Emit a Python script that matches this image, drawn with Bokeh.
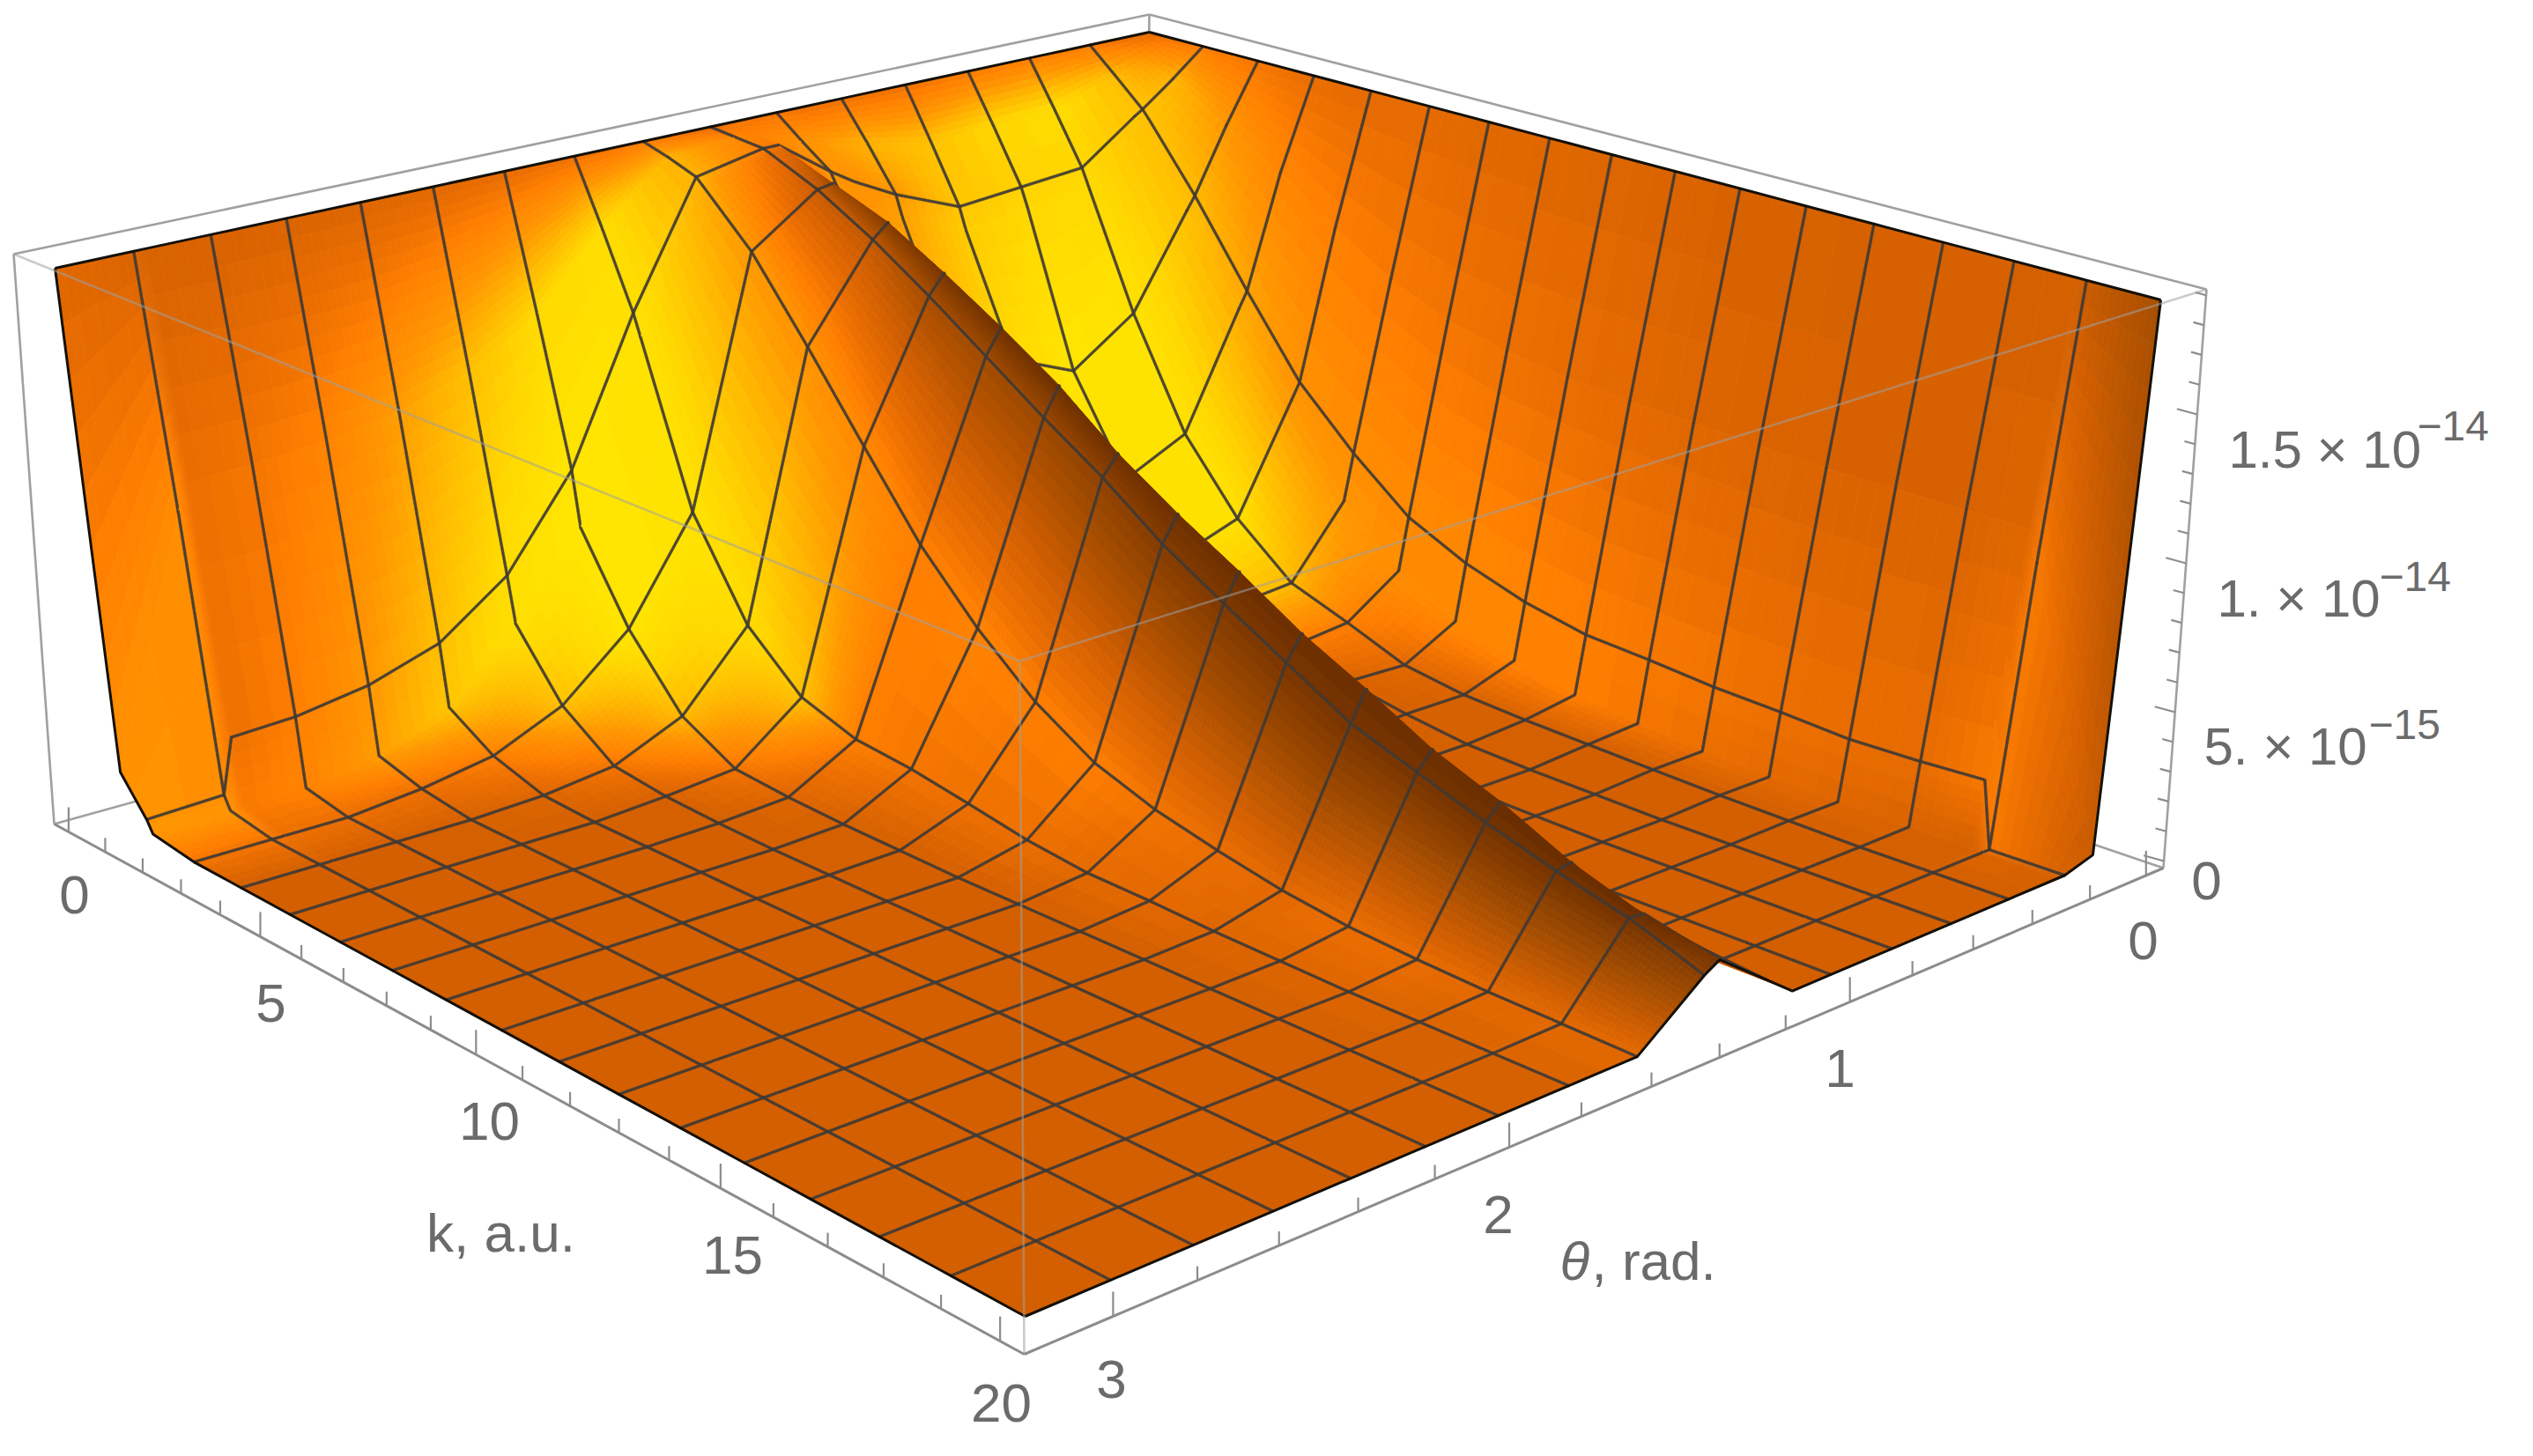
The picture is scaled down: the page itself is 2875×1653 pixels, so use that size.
from bokeh.plotting import figure
from bokeh.models import ColumnDataSource, Range1d
from bokeh.embed import file_html
from bokeh.resources import INLINE
from bokeh.core.properties import value
import numpy as np

# ---------- data (z in units of 1e-15) ----------
k_nodes = [0, 0.6, 1.25, 1.4, 2.5, 3.75, 5, 6.25, 7.5, 8.75, 10, 11.25, 12.5, 13.75, 15, 16.25, 17.5, 18.6, 18.75, 20]
# theta nodes in units of pi/16
t_nodes = [0, .5, 1, 1.13, 2, 3, 4, 5, 5.62, 6, 6.77, 7, 8, 9, 10, 11, 12, 13, 14, 14.85, 15, 16]
z_max = 19.0
z_rows = [
 [19,19,19,19,19,19,19,19,19,19,19,19,19,19,19,19,19,19,19,19,19,19],
 [19,18.5,18.1,18,17.3,17.2,17.1,17.6,17.9,18.2,18.9,18.9,18.7,16.6,14.1,12.6,11.8,11.4,11.2,11.1,10.2,1.8],
 [19,18,17.1,16.9,15.4,15.2,15,16,16.8,17.4,18.8,18.8,18.3,13.9,8.8,5.65,3.9,3.1,2.7,2.6,.7,.6],
 [19,17.9,16.8,16.5,14.8,14.5,14.2,15.2,16,16.9,18.7,18.7,18.05,13.1,6.8,4,1.7,.7,.3,.3,.25,.2],
 [19,16.8,14.4,13.9,10.5,8.9,9.9,10.9,13,15,18,17.9,16.2,7.35,3.8,1.75,.68,.25,0,0,0,0],
 [19,15.6,11.4,10.8,6.6,5.5,5,6,9,12,17.2,16.7,13.4,4,1.45,.4,.1,0,0,0,0,0],
 [19,14.1,8.6,8,4.1,3.3,3,3.5,6.5,10,16,15.3,10.5,2.2,.38,.15,0,0,0,0,0,0],
 [19,12.8,6.6,4.9,2.4,2.2,1.8,2.2,4.5,8.5,14.7,13.8,7.7,1.5,.2,.05,0,0,0,0,0,0],
 [19,11.9,4.9,3,1.65,1.4,1.1,1.3,3,7.5,13.3,12.3,5.5,1.27,.1,0,0,0,0,0,0,0],
 [19,11.4,3.9,1.85,.83,.9,.7,.9,2,6.3,11.6,10.9,3.7,.9,.05,0,0,0,0,0,0,0],
 [19,11.1,3.2,1.15,.5,.5,.4,.5,1.2,5.2,10.2,9.3,2.4,.5,0,0,0,0,0,0,0,0],
 [19,10.9,2.75,.66,.36,.2,.2,.3,.6,4.2,8.95,8,1.63,.25,0,0,0,0,0,0,0,0],
 [19,10.8,2.6,.4,.27,.1,.1,.15,.3,3.5,7.6,6.75,1.1,.2,0,0,0,0,0,0,0,0],
 [19,10.7,2.4,.2,.18,.05,.05,.05,.1,2.8,6.5,5.5,.65,.1,0,0,0,0,0,0,0,0],
 [19,10.6,2.3,.1,.1,0,0,0,0,2.2,5.3,4.7,.35,.05,0,0,0,0,0,0,0,0],
 [19,10.6,2.15,.05,.05,0,0,0,0,1.7,4.4,3.9,.2,0,0,0,0,0,0,0,0,0],
 [19,10.6,2.2,.02,0,0,0,0,0,1.2,3.3,3.2,.1,0,0,0,0,0,0,0,0,0],
 [19,10.6,2.3,0,0,0,0,0,0,.95,2.6,2.65,.06,0,0,0,0,0,0,0,0,0],
 [19,9.5,0,0,0,0,0,0,0,.9,2.54,2.6,.05,0,0,0,0,0,0,0,0,0],
 [19,.3,0,0,0,0,0,0,0,.66,2,1.7,0,0,0,0,0,0,0,0,0,0],
]
# brightness of the surface colour at the same nodes (0 dark brown .. 1 yellow)
F = .455
shade_rows = [
 [.52,.55,.60,.60,.62,.60,.56,.56,.56,.58,.58,.52,.60,.56,.53,.51,.49,.48,.47,.47,.48,.50],
 [.58,.72,.82,.85,.95,.92,.85,.80,.74,.70,.62,.66,.80,.95,.93,.84,.74,.64,.58,.55,.68,.70],
 [.60,.80,.85,.85,.92,.90,.86,.72,.70,.72,.60,.62,.80,.97,1.0,.95,.84,.72,.62,.56,.68,.72],
 [.60,.80,.85,.85,.93,.92,.88,.75,.70,.70,.50,.55,.78,.97,1.0,.96,.86,.74,.64,.60,.72,.72],
 [.58,.72,.82,.84,.98,1.0,.92,.80,.72,.70,.30,.42,.72,.98,1.0,.84,.62,.56,.55,.56,.58,.58],
 [.54,.65,.76,.78,.98,.98,.90,.75,.60,.60,.20,.40,.70,.95,.82,.58,.50,.47,.46,.46,.46,.46],
 [.52,.62,.70,.72,.97,.96,.85,.70,.55,.50,.15,.32,.66,.85,.58,.48,.46,F,F,F,F,F],
 [.52,.60,.68,.72,.82,.85,.70,.60,.50,.40,.13,.30,.62,.62,.50,.46,F,F,F,F,F,F],
 [.50,.58,.67,.68,.62,.60,.55,.50,.45,.35,.12,.28,.64,.58,.47,F,F,F,F,F,F,F],
 [.50,.56,.66,.66,.52,.48,.47,.46,.45,.30,.12,.24,.62,.56,.46,F,F,F,F,F,F,F],
 [.49,.54,.64,.64,.48,.46,.46,F,F,.20,.12,.20,.62,.55,.46,F,F,F,F,F,F,F],
 [.48,.52,.62,.62,.47,.46,F,F,F,.18,.11,.18,.58,.52,.46,F,F,F,F,F,F,F],
 [.47,.50,.60,.58,.46,F,F,F,F,.16,.11,.16,.55,.52,F,F,F,F,F,F,F,F],
 [.47,.49,.58,.55,F,F,F,F,F,.16,.11,.15,.52,.50,F,F,F,F,F,F,F,F],
 [.46,.48,.56,.52,F,F,F,F,F,.15,.11,.15,.55,.50,F,F,F,F,F,F,F,F],
 [.46,.48,.55,.50,F,F,F,F,F,.15,.10,.14,.54,.50,F,F,F,F,F,F,F,F],
 [.46,.48,.54,.48,F,F,F,F,F,.15,.10,.14,.52,.48,F,F,F,F,F,F,F,F],
 [.45,.50,.60,.46,F,F,F,F,F,.15,.10,.14,.52,.48,F,F,F,F,F,F,F,F],
 [.42,.60,.60,.50,F,F,F,F,F,.15,.10,.14,.52,.48,F,F,F,F,F,F,F,F],
 [.32,.42,.46,.46,F,F,F,F,F,.20,.16,.22,.52,.48,F,F,F,F,F,F,F,F],
]
mesh_k = [1.25 * i for i in range(1, 16)]
mesh_t = list(range(1, 16))
k_ticks = list(range(0, 21))
k_major = [0, 5, 10, 15, 20]
theta_ticks = [round(.2 * i, 1) for i in range(0, 16)]
theta_major = [0, 1, 2, 3]
z_ticks = list(range(0, 20))
z_major = [0, 5, 10, 15]

# ---------- view ----------
shade_stops = [0, .12, .3, .455, .55, .62, .72, .82, .92, 1]
shade_r = [70, 110, 160, 211, 235, 255, 255, 255, 255, 255]
shade_g = [30, 48, 75, 95, 110, 127, 150, 185, 215, 230]

def homography(c):
    src = [(0, 0), (1, 0), (1, 1), (0, 1)]
    A, b = [], []
    for (u, v), (x, y) in zip(src, c):
        A.append([u, v, 1, 0, 0, 0, -u * x, -v * x]); b.append(x)
        A.append([0, 0, 0, u, v, 1, -u * y, -v * y]); b.append(y)
    h = np.linalg.solve(np.array(A, float), np.array(b, float))
    return np.append(h, 1).reshape(3, 3)

def apply(H, u, v):
    w = H[2, 0] * u + H[2, 1] * v + 1
    return (H[0, 0] * u + H[0, 1] * v + H[0, 2]) / w, (H[1, 0] * u + H[1, 1] * v + H[1, 2]) / w

# corners in page pixels: far, right, near, left
H_floor = homography([(1299, 605), (2413, 975), (1171, 1502), (125, 930)])
H_top = homography([(1312, 44), (2460, 348), (1166, 736), (70, 312)])
BB, BR, BN, BL = (1305, 600), (2463, 993), (1170, 1545), (69, 943)
TB, TR, TN, TL = (1312, 24), (2512, 336), (1165, 758), (23, 296)
H_box = homography([BB, BR, BN, BL])
K_LO, K_HI, TH_LO, TH_HI = -.4, 20.4, -.063, 3.204

def project(k, t, z):
    x0, y0 = apply(H_floor, k / 20, t / 16)
    x1, y1 = apply(H_top, k / 20, t / 16)
    f = z / z_max
    return x0 + (x1 - x0) * f, y0 + (y1 - y0) * f

def box_point(k, th):
    return apply(H_box, (k - K_LO) / (K_HI - K_LO), (th - TH_LO) / (TH_HI - TH_LO))

def colour(s):
    r = int(round(np.interp(s, shade_stops, shade_r)))
    g = int(round(np.interp(s, shade_stops, shade_g)))
    return "#%02x%02x00" % (r, g)

# ---------- surface, painted far to near ----------
Z = np.array(z_rows, float)
S = np.array(shade_rows, float)
assert Z.shape == (len(k_nodes), len(t_nodes)) and S.shape == Z.shape
xs, ys, fc, fa = [], [], [], []
MESH_W = 2.6

def add_segment(p0, p1):
    dx, dy = p1[0] - p0[0], p1[1] - p0[1]
    n = max(np.hypot(dx, dy), 1e-6)
    ox, oy = -dy / n * MESH_W / 2, dx / n * MESH_W / 2
    ex, ey = dx / n * .6, dy / n * .6
    xs.append([p0[0] + ox - ex, p1[0] + ox + ex, p1[0] - ox + ex, p0[0] - ox - ex])
    ys.append([p0[1] + oy - ey, p1[1] + oy + ey, p1[1] - oy + ey, p0[1] - oy - ey])
    fc.append("#3f3a35"); fa.append(.92)

for a in range(len(k_nodes) - 1):
    for b in range(len(t_nodes) - 1):
        k0, k1, t0, t1 = k_nodes[a], k_nodes[a + 1], t_nodes[b], t_nodes[b + 1]
        zz = Z[a:a + 2, b:b + 2]
        ss = S[a:a + 2, b:b + 2]
        corners = [project(k0, t0, zz[0, 0]), project(k0, t1, zz[0, 1]), project(k1, t1, zz[1, 1]), project(k1, t0, zz[1, 0])]
        spread = ss.max() - ss.min()
        size = max(np.hypot(corners[i][0] - corners[(i + 1) % 4][0], corners[i][1] - corners[(i + 1) % 4][1]) for i in range(4))
        n = int(min(max(1, np.ceil(spread / .025)), max(1, np.ceil(size / 9)), 24))
        g = np.linspace(0, 1, n + 1)
        for i in range(n):
            for j in range(n):
                qx, qy = [], []
                for (p, q) in [(g[i], g[j]), (g[i], g[j + 1]), (g[i + 1], g[j + 1]), (g[i + 1], g[j])]:
                    z = (1 - p) * ((1 - q) * zz[0, 0] + q * zz[0, 1]) + p * ((1 - q) * zz[1, 0] + q * zz[1, 1])
                    x, y = project(k0 + (k1 - k0) * p, t0 + (t1 - t0) * q, z)
                    qx.append(x); qy.append(y)
                pm, qm = (g[i] + g[i + 1]) / 2, (g[j] + g[j + 1]) / 2
                s = (1 - pm) * ((1 - qm) * ss[0, 0] + qm * ss[0, 1]) + pm * ((1 - qm) * ss[1, 0] + qm * ss[1, 1])
                xs.append(qx); ys.append(qy); fc.append(colour(s)); fa.append(1.0)
        if k0 in mesh_k:
            add_segment(project(k0, t0, zz[0, 0]), project(k0, t1, zz[0, 1]))
        if t0 in mesh_t:
            add_segment(project(k0, t0, zz[0, 0]), project(k1, t0, zz[1, 0]))

p = figure(width=2859, height=1637, output_backend="svg", toolbar_location=None,
           x_range=Range1d(8, 2867), y_range=Range1d(1645, 8), min_border=0)
p.xaxis.visible = False
p.yaxis.visible = False
p.grid.visible = False
p.outline_line_color = None
p.background_fill_color = "white"

BOX = "#a0a0a0"
def seg(pts, alpha=1.0, width=2.6, color=BOX):
    p.multi_line([[a[0], b[0]] for a, b in pts], [[a[1], b[1]] for a, b in pts],
                 line_color=color, line_width=width, line_alpha=alpha)

# back of the box
seg([(TL, TB), (TB, TR), (TL, BL), (TR, BR), (BL, BB), (BR, BB), (TB, BB)])

p.patches("xs", "ys", source=ColumnDataSource(dict(xs=xs, ys=ys, fc=fc, fa=fa)),
          fill_color="fc", line_color="fc", fill_alpha="fa", line_alpha="fa", line_width=.7)

# black boundary of the surface
def edge(points):
    pts = [project(*q) for q in points]
    p.line([q[0] for q in pts], [q[1] for q in pts], line_color="#141008", line_width=3)

edge([(0, t, Z[0, j]) for j, t in enumerate(t_nodes)])
edge([(k, 0, Z[i, 0]) for i, k in enumerate(k_nodes)])
edge([(20, t, Z[-1, j]) for j, t in enumerate(t_nodes)])
edge([(k, 16, Z[i, -1]) for i, k in enumerate(k_nodes)])

# front of the box and the axes
seg([(TL, TN), (TN, TR), (TN, BN)], alpha=.55)
seg([(BL, BN), (BN, BR)], color="#8c8c8c", width=3)

tk = []
for k in k_ticks:
    x, y = box_point(k, TH_HI)
    tk.append(((x, y), (x, y - (28 if k in k_major else 16))))
for th in theta_ticks:
    x, y = box_point(K_HI, th)
    tk.append(((x, y), (x, y - (28 if round(th, 1) in theta_major else 16))))
for z in z_ticks:
    f = (8 + 33.8 * z) / 657
    x, y = BR[0] + (TR[0] - BR[0]) * f, BR[1] + (TR[1] - BR[1]) * f
    m = 23 if z in z_major else 12
    tk.append(((x, y), (x - m, y - m * .27)))
seg(tk, color="#8c8c8c", width=2.2)

LABEL = "#6b6b6b"
def labels(x, y, text, size="62px", align="center", style="normal"):
    p.text(x=x, y=y, text=text, text_font=value("Liberation Sans"), text_font_size=size,
           text_color=LABEL, text_align=align, text_baseline="middle", text_font_style=style)

labels([92, 315, 563, 839, 1144], [1023, 1146, 1280, 1432, 1600], ["0", "5", "10", "15", "20"])
labels([2440, 2096, 1708, 1269], [1075, 1220, 1386, 1573], ["0", "1", "2", "3"])
labels([2512], [1007], ["0"])
labels([576], [1407], ["k, a.u."])
labels([1778], [1439], ["\u03b8"], align="left", style="italic")
labels([1814], [1439], [", rad."], align="left")
labels([2509, 2524, 2537], [855, 687, 518], ["5. \u00d7 10", "1. \u00d7 10", "1.5 \u00d7 10"], size="60px", align="left")
labels([2696, 2708, 2751], [830, 662, 491], ["\u221215", "\u221214", "\u221214"], size="48px", align="left")

open("out.html", "w").write(file_html(p, INLINE))
